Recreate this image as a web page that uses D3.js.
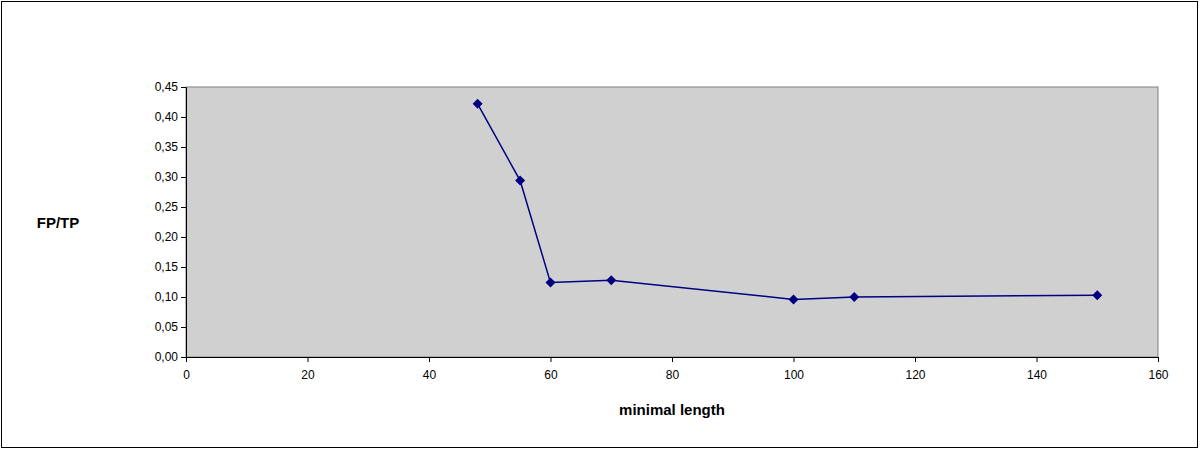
<!DOCTYPE html>
<html><head><meta charset="utf-8">
<script src="https://cdn.jsdelivr.net/npm/d3@7"></script>
<style>body{margin:0;background:#fff}svg{display:block;font-family:"Liberation Sans",Arial,sans-serif}</style>
</head><body>
<svg id="chart" width="1200" height="450"></svg>
<script>
const lengths = [48, 55, 60, 70, 100, 110, 150];
const ratios = [0.422, 0.294, 0.124, 0.128, 0.096, 0.100, 0.103];
const xTicks = [0, 20, 40, 60, 80, 100, 120, 140, 160];
const yTicks = [0, 0.05, 0.10, 0.15, 0.20, 0.25, 0.30, 0.35, 0.40, 0.45];

const svg = d3.select('#chart');
const plotL = 186, plotT = 87, plotR = 1158, plotB = 357;

svg.append('rect').attr('x', 1.5).attr('y', 1.5).attr('width', 1196).attr('height', 446)
  .attr('fill', '#fff').attr('stroke', '#000').attr('stroke-width', 1);

const x = d3.scaleLinear().domain([0, 160]).range([plotL, plotR]);
const y = d3.scaleLinear().domain([0, 0.45]).range([plotB, plotT]);

svg.append('rect').attr('x', plotL).attr('y', plotT).attr('width', plotR - plotL).attr('height', plotB - plotT)
  .attr('fill', '#d0d0d0').attr('stroke', '#808080').attr('stroke-width', 1);

const fmt = d => d3.format('.2f')(d).replace('.', ',');

const yAxis = svg.append('g').attr('transform', `translate(${plotL},0)`)
  .call(d3.axisLeft(y).tickValues(yTicks).tickFormat(fmt).tickSize(5).tickSizeOuter(0));
const xAxis = svg.append('g').attr('transform', `translate(0,${plotB})`)
  .call(d3.axisBottom(x).tickValues(xTicks).tickFormat(d3.format('d')).tickSize(5).tickSizeOuter(0));
[xAxis, yAxis].forEach(a => {
  a.selectAll('text').attr('font-size', 12).attr('fill', '#000').attr('font-family', '"Liberation Sans",Arial,sans-serif');
  a.selectAll('line,path').attr('stroke', '#000');
});
xAxis.selectAll('text').attr('dy', '1.2em');

const pts = lengths.map((l, i) => [l, ratios[i]]);
svg.append('path').datum(pts)
  .attr('d', d3.line().x(d => x(d[0])).y(d => y(d[1])))
  .attr('fill', 'none').attr('stroke', '#000080').attr('stroke-width', 1.5);
svg.selectAll('.pt').data(pts).enter().append('path')
  .attr('transform', d => `translate(${x(d[0])},${y(d[1])})`)
  .attr('d', 'M0,-5L5,0L0,5L-5,0Z').attr('fill', '#000080');

svg.append('text').attr('x', 58).attr('y', 228).attr('text-anchor', 'middle')
  .attr('font-size', 15).attr('font-weight', 'bold').text('FP/TP');
svg.append('text').attr('x', x(80)).attr('y', 415).attr('text-anchor', 'middle')
  .attr('font-size', 15).attr('font-weight', 'bold').text('minimal length');
</script>
</body></html>
